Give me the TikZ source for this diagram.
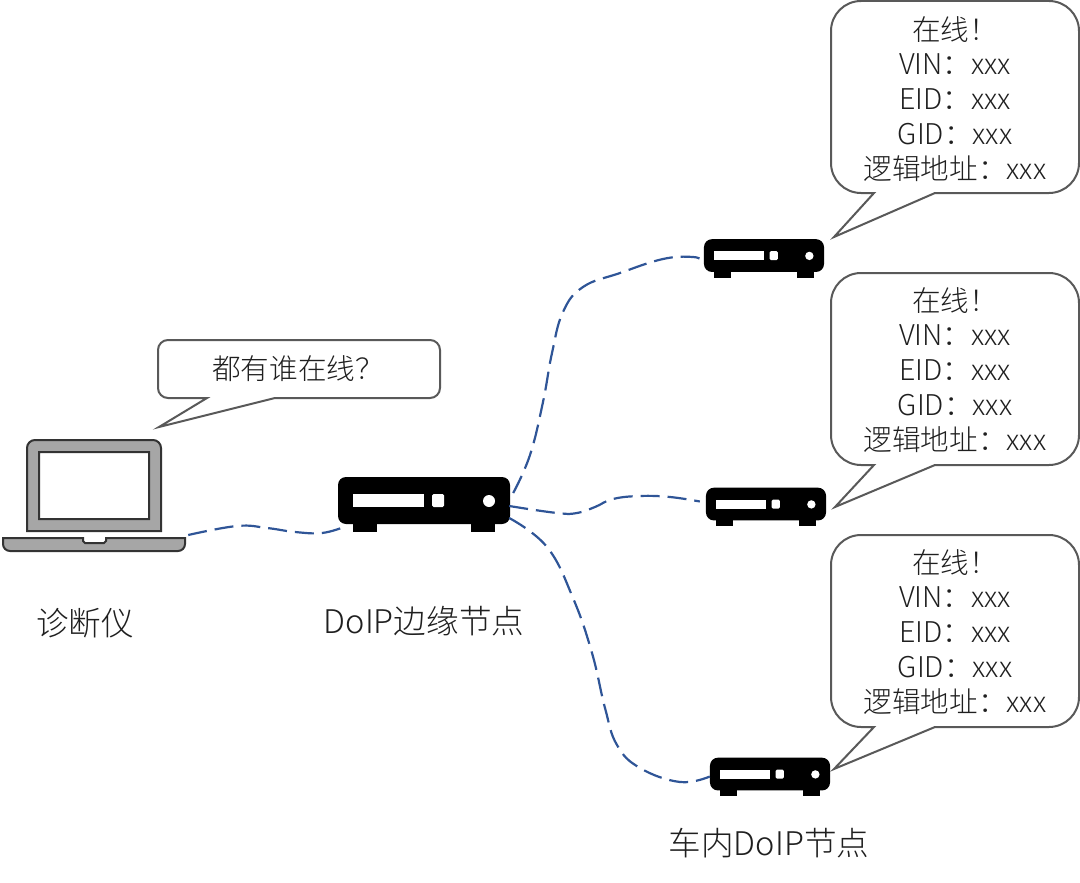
\documentclass[tikz,border=0pt]{standalone}
\usepackage{fontspec}
\setmainfont{Noto Sans CJK SC}[UprightFont=* Light]
\usetikzlibrary{calc}
\definecolor{linkblue}{HTML}{2F5597}
\definecolor{bubbleline}{HTML}{595959}
\definecolor{txt}{HTML}{1F1F1F}
\tikzset{
  x=1pt,y=-1pt,
  link/.style={draw=linkblue,line width=2.2pt,dash pattern=on 19pt off 8pt},
  bubble/.style={draw=bubbleline,line width=2pt,fill=white},
  label/.style={text=txt,font=\fontsize{28.6}{34.8}\selectfont,inner sep=0pt,align=center},
  caption/.style={text=txt,font=\fontsize{32.6}{38}\selectfont,inner sep=0pt,align=center},
  anchorbox/.style={inner sep=0pt,minimum width=#1,minimum height=1pt},
  pics/router/.style={code={
    \fill[black,rounded corners=8pt] (-86,-27) rectangle (86,20);
    \fill[black] (-71,18) rectangle (-47,28);
    \fill[black] (47,18) rectangle (71,28);
    \fill[white] (-71,-10) rectangle (0,3);
    \fill[white,rounded corners=1.5pt] (8,-10) rectangle (20,3);
    \fill[white] (65,-3) circle (6);
  }}
}
\newcommand{\infobubble}[3]{% top y, tip x, tip y
  \draw[bubble] (861,#1)
    -- (1049,#1) arc[start angle=-90,end angle=0,radius=30]
    -- (1079,#1+162) arc[start angle=0,end angle=90,radius=30]
    -- (935,#1+192) -- (#2,#3) -- (874,#1+192) -- (861,#1+192)
    arc[start angle=90,end angle=180,radius=30]
    -- (831,#1+30) arc[start angle=180,end angle=270,radius=30] -- cycle;
}
\begin{document}
\begin{tikzpicture}
\useasboundingbox (0,0) rectangle (1080,883);
% laptop
\draw[draw=black!80,line width=2pt,fill=black!35,even odd rule]
  (27,531) -- (27,448) arc[start angle=180,end angle=270,radius=8] -- (153,440)
  arc[start angle=-90,end angle=0,radius=8] -- (161,531) -- cycle
  (39,452) rectangle (149,519);
\draw[draw=black!80,line width=2pt,fill=black!35]
  (3,538) -- (83,538) -- (83,541) -- (85,543) -- (104,543) -- (106,541) -- (106,538) -- (185,538)
  -- (185,544) arc[start angle=0,end angle=90,radius=7] -- (10,551)
  arc[start angle=90,end angle=180,radius=7] -- cycle;
\node[anchorbox=182] (laptop) at (94,545) {};
% routers
\node[anchorbox=172] (edge) at (424,504) {};
\pic at (edge) {router};
\node[anchorbox=120] (ecua) at (764,258) {};
\pic[scale=.698] at (ecua) {router};
\node[anchorbox=120] (ecub) at (766,506.5) {};
\pic[scale=.698] at (ecub) {router};
\node[anchorbox=120] (ecuc) at (770,776.5) {};
\pic[scale=.698] at (ecuc) {router};
% links
\coordinate (la) at ($(laptop.east)+(3,-10)$);
\coordinate (ea) at ($(edge.west)+(6,23)$);
\draw[link] plot[smooth,tension=.7] coordinates {(la) (237,526) (267,528) (295,532) (322,533) (ea)};
\coordinate (eb) at ($(edge.east)+(3,-11)$);
\coordinate (ta) at ($(ecua.west)+(-1,3)$);
\draw[link] plot[smooth,tension=.7] coordinates {(eb) (530,455) (543,402) (552,353) (563,312) (583,287) (620,273) (663,259) (693,257) (ta)};
\coordinate (ec) at ($(edge.east)+(-1,2)$);
\coordinate (tb) at ($(ecub.west)+(-6,-5)$);
\draw[link] plot[smooth,tension=.7] coordinates {(ec) (557,513) (577,513) (595,507) (613,499) (640,496) (670,497) (tb)};
\coordinate (ed) at ($(edge.east)+(-1,14)$);
\coordinate (tc) at ($(ecuc.west)$);
\draw[link] plot[smooth,tension=.7] coordinates {(ed) (547,547) (573,598) (592,653) (605,708) (617,745) (640,768) (680,782) (tc)};
% speech bubble of the tester
\draw[bubble] (168,340) -- (430,340) arc[start angle=-90,end angle=0,radius=10]
  -- (440,388) arc[start angle=0,end angle=90,radius=10] -- (275,398) -- (159,427) -- (207,398)
  -- (168,398) arc[start angle=90,end angle=180,radius=10] -- (158,350)
  arc[start angle=180,end angle=270,radius=10] -- cycle;
\node[label] (ask) at (298,369) {都有谁在线？};
% info bubbles
\infobubble{1}{834}{237}
\infobubble{273}{835}{507}
\infobubble{535}{834}{769}
\node[label,anchor=north] (ia) at (955,16) {在线！\\VIN：xxx\\EID：xxx\\GID：xxx\\逻辑地址：xxx};
\node[label,anchor=north] (ib) at (955,287) {在线！\\VIN：xxx\\EID：xxx\\GID：xxx\\逻辑地址：xxx};
\node[label,anchor=north] (ic) at (955,549) {在线！\\VIN：xxx\\EID：xxx\\GID：xxx\\逻辑地址：xxx};
% captions
\node[caption] (ca) at (85,623) {诊断仪};
\node[caption] (cb) at (424,621) {DoIP边缘节点};
\node[caption] (cc) at (769,843) {车内DoIP节点};
\end{tikzpicture}
\end{document}
